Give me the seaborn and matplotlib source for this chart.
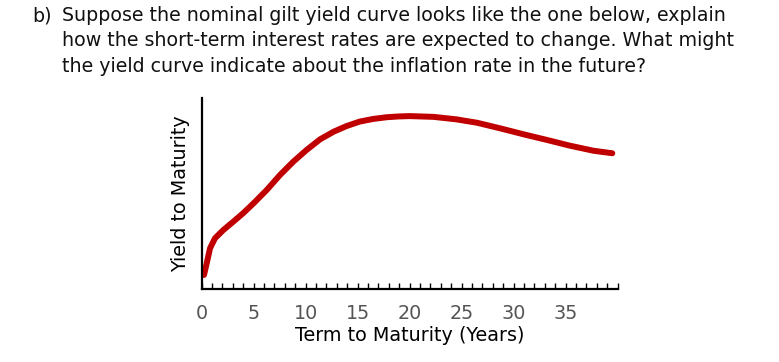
import numpy as np
import pandas as pd
import seaborn as sns
import matplotlib
import matplotlib.pyplot as plt
matplotlib.use('agg')

# values (arbitrary yield units, 0-10 axis)
term_years = [0.24, 0.5, 0.82, 1.3, 2.1, 3.06, 4.0, 5.0, 6.27, 7.55, 8.83, 10.1, 11.4,
              12.7, 13.96, 15.2, 16.5, 17.8, 18.9, 20.0, 22.3, 24.5, 26.5, 28.7,
              31.0, 33.2, 35.4, 37.7, 39.5]
yield_values = [0.71, 1.32, 2.11, 2.64, 3.07, 3.51, 3.95, 4.47, 5.17, 5.96, 6.66, 7.27, 7.83,
                8.23, 8.53, 8.76, 8.90, 8.99, 9.03, 9.05, 9.01, 8.88, 8.70, 8.41,
                8.09, 7.80, 7.50, 7.23, 7.10]
major_ticks = [0, 5, 10, 15, 20, 25, 30, 35]
question_lines = ["Suppose the nominal gilt yield curve looks like the one below, explain",
                  "how the short-term interest rates are expected to change. What might",
                  "the yield curve indicate about the inflation rate in the future?"]

sns.set_style("ticks")
plt.rcParams['font.family'] = ['DejaVu Sans']

df = pd.DataFrame({"term": term_years, "yield": yield_values})

fig = plt.figure(figsize=(7.79, 3.62), dpi=100)
W, H = 779, 362
ax = fig.add_axes([201.5 / W, 1 - 288.5 / H, 416 / W, (288.5 - 98) / H])

sns.lineplot(data=df, x="term", y="yield", ax=ax, color="#c00000",
             linewidth=4.3, solid_capstyle="round", solid_joinstyle="round", clip_on=False)

ax.set_xlim(0, 40)
ax.set_ylim(0, 10)
ax.set_xticks(major_ticks)
ax.set_xticks(np.arange(0, 41, 1), minor=True)
ax.set_yticks([])
ax.tick_params(axis="x", which="both", direction="in", length=4, width=1,
               color="black", labelsize=13.8, labelcolor="#555555", pad=11)
for s in ["top", "right"]:
    ax.spines[s].set_visible(False)
for s in ["left", "bottom"]:
    ax.spines[s].set_linewidth(1.6)
    ax.spines[s].set_color("black")

ax.set_xlabel("Term to Maturity (Years)", fontsize=13.8, color="black", labelpad=2)
ax.set_ylabel("Yield to Maturity", fontsize=13.8, color="black", labelpad=8)

# question text above the chart
fig.text(32 / W, 1 - 21 / H, "b)", fontsize=13.7, va="baseline", ha="left", color="#111111")
for i, line in enumerate(question_lines):
    fig.text(62 / W, 1 - (21 + 25.5 * i) / H, line, fontsize=13.7,
             va="baseline", ha="left", color="#111111")

fig.savefig("out.png", dpi=100)
plt.close(fig)
